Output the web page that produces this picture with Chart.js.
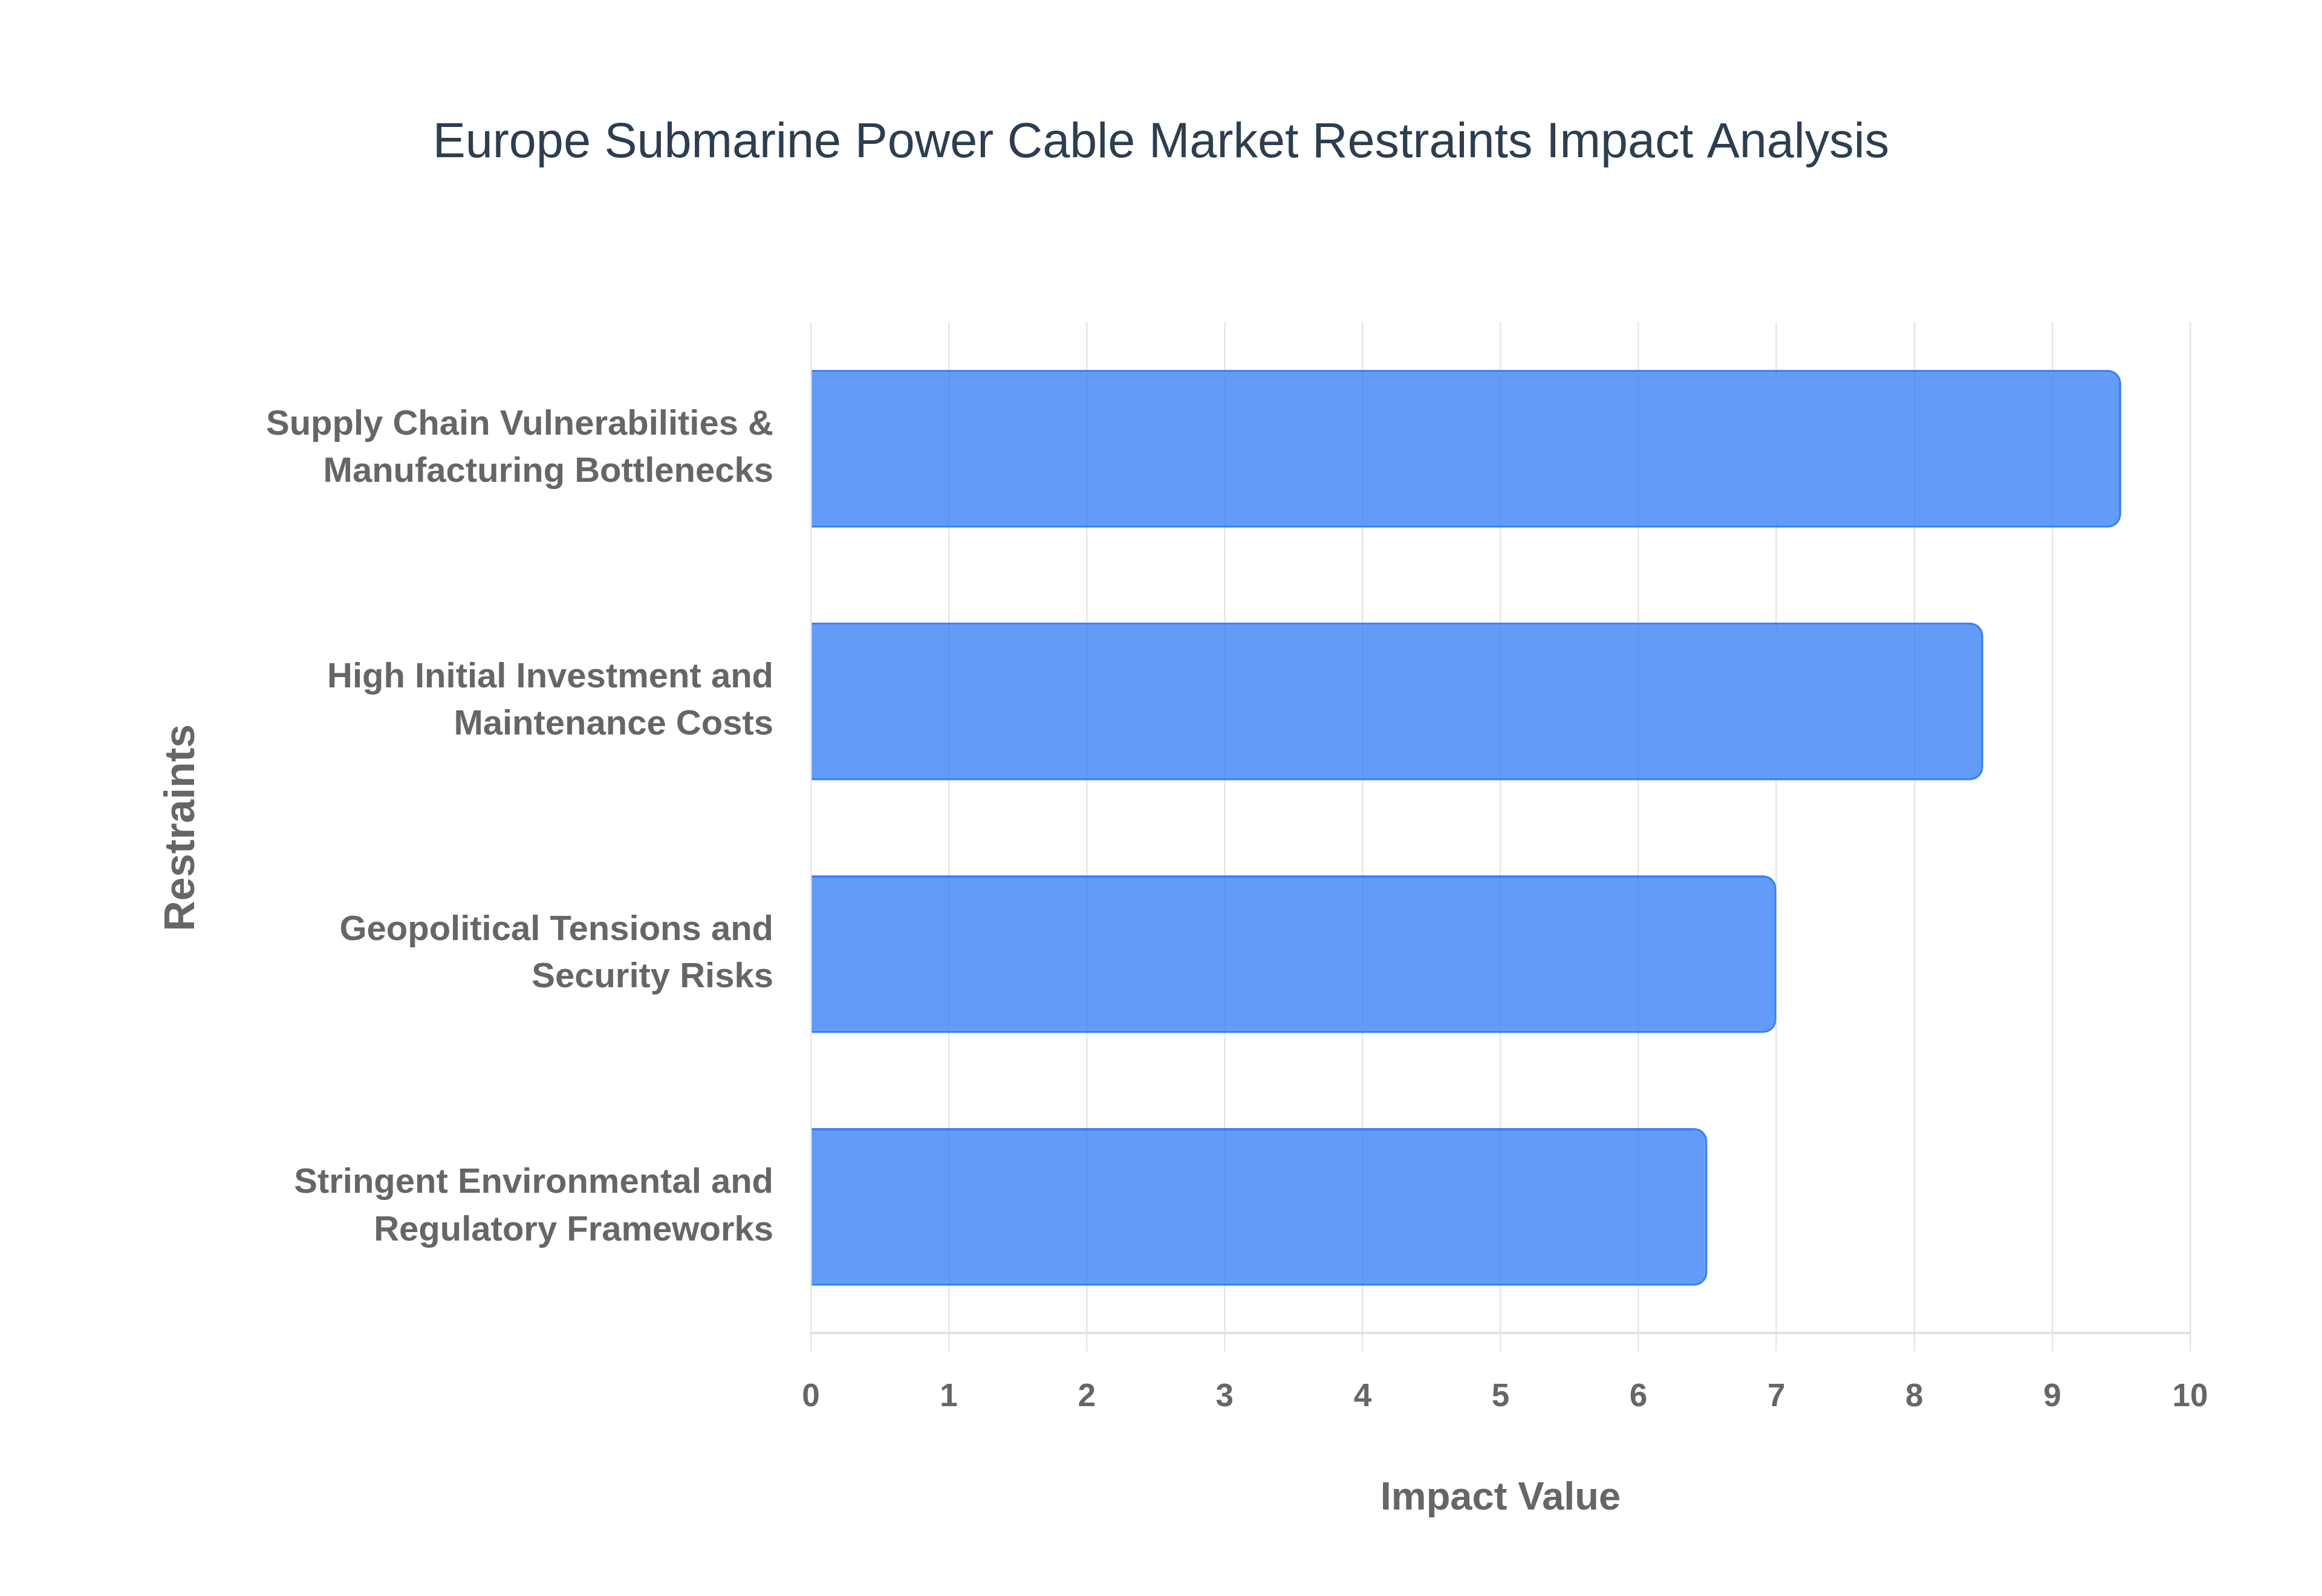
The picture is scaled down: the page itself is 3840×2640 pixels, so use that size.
<!DOCTYPE html>
<html>
<head>
<meta charset="utf-8">
<script src="https://cdn.jsdelivr.net/npm/chart.js@4.4.0/dist/chart.umd.min.js"></script>
<style>
  html, body { margin: 0; padding: 0; background: #ffffff; }
  #wrap { width: 3840px; height: 2640px; position: relative; }
</style>
</head>
<body>
<div id="wrap"><canvas id="c"></canvas></div>
<script>
const categories = [
  ["Supply Chain Vulnerabilities &", "Manufacturing Bottlenecks"],
  ["High Initial Investment and", "Maintenance Costs"],
  ["Geopolitical Tensions and", "Security Risks"],
  ["Stringent Environmental and", "Regulatory Frameworks"]
];
const impactValues = [9.5, 8.5, 7.0, 6.5];
const chartTitle = "Europe Submarine Power Cable Market Restraints Impact Analysis";
const xAxisTitle = "Impact Value";
const yAxisTitle = "Restraints";

const ctx = document.getElementById('c');
new Chart(ctx, {
  type: 'bar',
  data: {
    labels: categories,
    datasets: [{
      label: xAxisTitle,
      data: impactValues,
      backgroundColor: 'rgba(59,130,246,0.8)',
      borderColor: '#3b82f6',
      borderWidth: 4,
      borderRadius: 22,
      borderSkipped: 'start',
      categoryPercentage: 0.8,
      barPercentage: 0.78
    }]
  },
  options: {
    indexAxis: 'y',
    responsive: true,
    maintainAspectRatio: false,
    devicePixelRatio: 1,
    animation: false,
    layout: { padding: { left: 0, right: 0, top: 0, bottom: 0 } },
    plugins: {
      legend: { display: false },
      tooltip: { enabled: false },
      title: {
        display: true,
        text: chartTitle,
        color: '#2c3e50',
        font: { family: 'Liberation Sans', size: 81, weight: 'normal', lineHeight: 1.2 },
        padding: { top: 189, bottom: 247 }
      }
    },
    scales: {
      x: {
        min: 0,
        max: 10,
        afterFit: function (scale) { scale.paddingRight = 218; },
        ticks: {
          stepSize: 1,
          color: '#666666',
          padding: 44,
          font: { family: 'Liberation Sans', size: 53, weight: 'bold', lineHeight: 1.2 }
        },
        grid: {
          color: '#e6e6e6',
          lineWidth: 2.5,
          drawTicks: true,
          tickLength: 30
        },
        border: { display: true, color: '#e2e2e2', width: 4 },
        title: {
          display: true,
          text: xAxisTitle,
          color: '#666666',
          font: { family: 'Liberation Sans', size: 65, weight: 'bold', lineHeight: 1.2 },
          padding: { top: 53, bottom: 122 }
        }
      },
      y: {
        ticks: {
          color: '#666666',
          padding: 62,
          font: { family: 'Liberation Sans', size: 58, weight: 'bold', lineHeight: 1.35 }
        },
        grid: { display: false, drawTicks: false, tickLength: 0 },
        border: { display: false },
        title: {
          display: true,
          text: yAxisTitle,
          color: '#666666',
          font: { family: 'Liberation Sans', size: 70, weight: 'bold', lineHeight: 1.2 },
          padding: { top: 260, bottom: 34 }
        }
      }
    }
  }
});
</script>
</body>
</html>
